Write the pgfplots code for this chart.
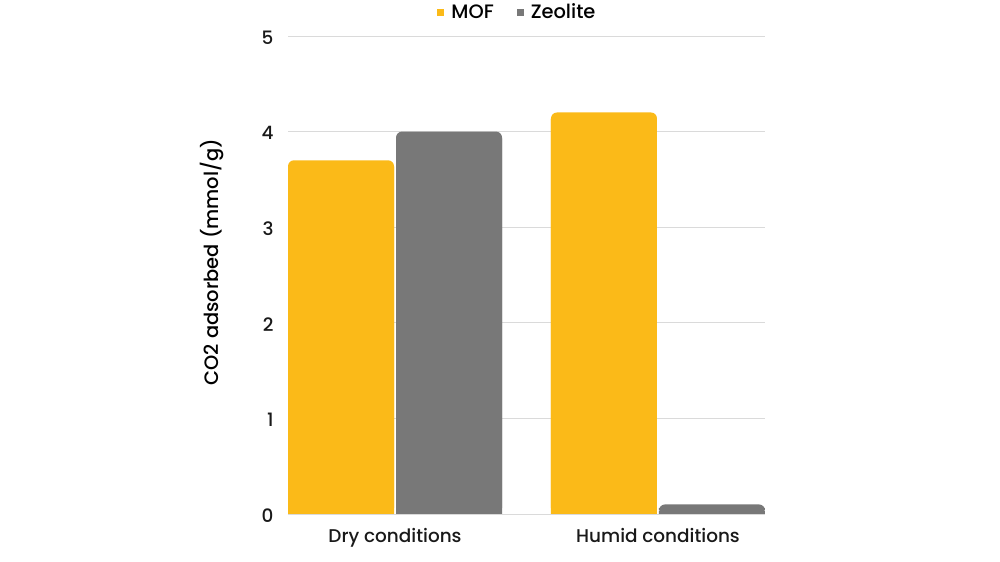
\documentclass[border=0pt]{standalone}
\usepackage{pgfplots}
\usepackage{pgfplotstable}
\pgfplotsset{compat=1.18}
\usepackage{fontspec}
\setmainfont{Poppins}[UprightFont=* Medium]
\definecolor{mof}{RGB}{251,186,24}
\definecolor{zeo}{RGB}{120,120,120}
\definecolor{gridc}{RGB}{218,218,218}

% CO2 uptake per adsorbent and condition
\pgfplotstableread{
cat mof zeo
0   3.7 4.0
1   4.2 0.1
}\uptake

\begin{document}
\begin{tikzpicture}[x=1bp,y=1bp]
\useasboundingbox (0,0) rectangle (1000,562);
\begin{axis}[
  at={(288bp,48bp)}, anchor=south west,
  scale only axis, width=477bp, height=478bp,
  xmin=-0.407, xmax=1.407, ymin=0, ymax=5,
  ybar, bar width=106bp,
  xtick={0,1}, xticklabels={Dry conditions, Humid conditions},
  ytick={0,1,2,3,4,5},
  major tick length=0pt,
  axis line style={draw=none},
  ymajorgrids, grid style={gridc, line width=0.8bp},
  /pgf/number format/assume math mode=true,
  tick label style={font=\fontsize{18.5}{20}\selectfont, text=black!90},
  yticklabel style={xshift=-11bp, yshift=-1.5bp},
  xticklabel style={yshift=-11bp},
  ylabel={CO2 adsorbed (mmol/g)},
  every axis y label/.style={at={(axis description cs:-0.159,0.527)}, rotate=90, anchor=center, font=\fontsize{19.5}{21}\selectfont},
  legend style={at={(axis description cs:0.481,1.05)}, anchor=center, draw=none, fill=none,
    legend columns=2, font=\fontsize{19.5}{21}\selectfont,
    /tikz/every odd column/.append style={column sep=5bp},
    /tikz/every even column/.append style={column sep=21bp}},
  legend image code/.code={\fill[#1, sharp corners] (0bp,-3.5bp) rectangle (7bp,3.5bp);},
]
% rounded-top bars
\addplot[fill=mof, draw=none, bar shift=-54bp, rounded corners=6bp] table[x=cat, y=mof] {\uptake};
\addplot[fill=zeo, draw=none, bar shift=54bp, rounded corners=6bp] table[x=cat, y=zeo] {\uptake};
% square lower part so only the top corners look rounded
\addplot[forget plot, fill=mof, draw=none, bar shift=-54bp] table[x=cat, y expr=\thisrow{mof}-0.07] {\uptake};
\addplot[forget plot, fill=zeo, draw=none, bar shift=54bp] table[x=cat, y expr=\thisrow{zeo}-0.07] {\uptake};
\legend{MOF, Zeolite}
\end{axis}
\end{tikzpicture}
\end{document}
